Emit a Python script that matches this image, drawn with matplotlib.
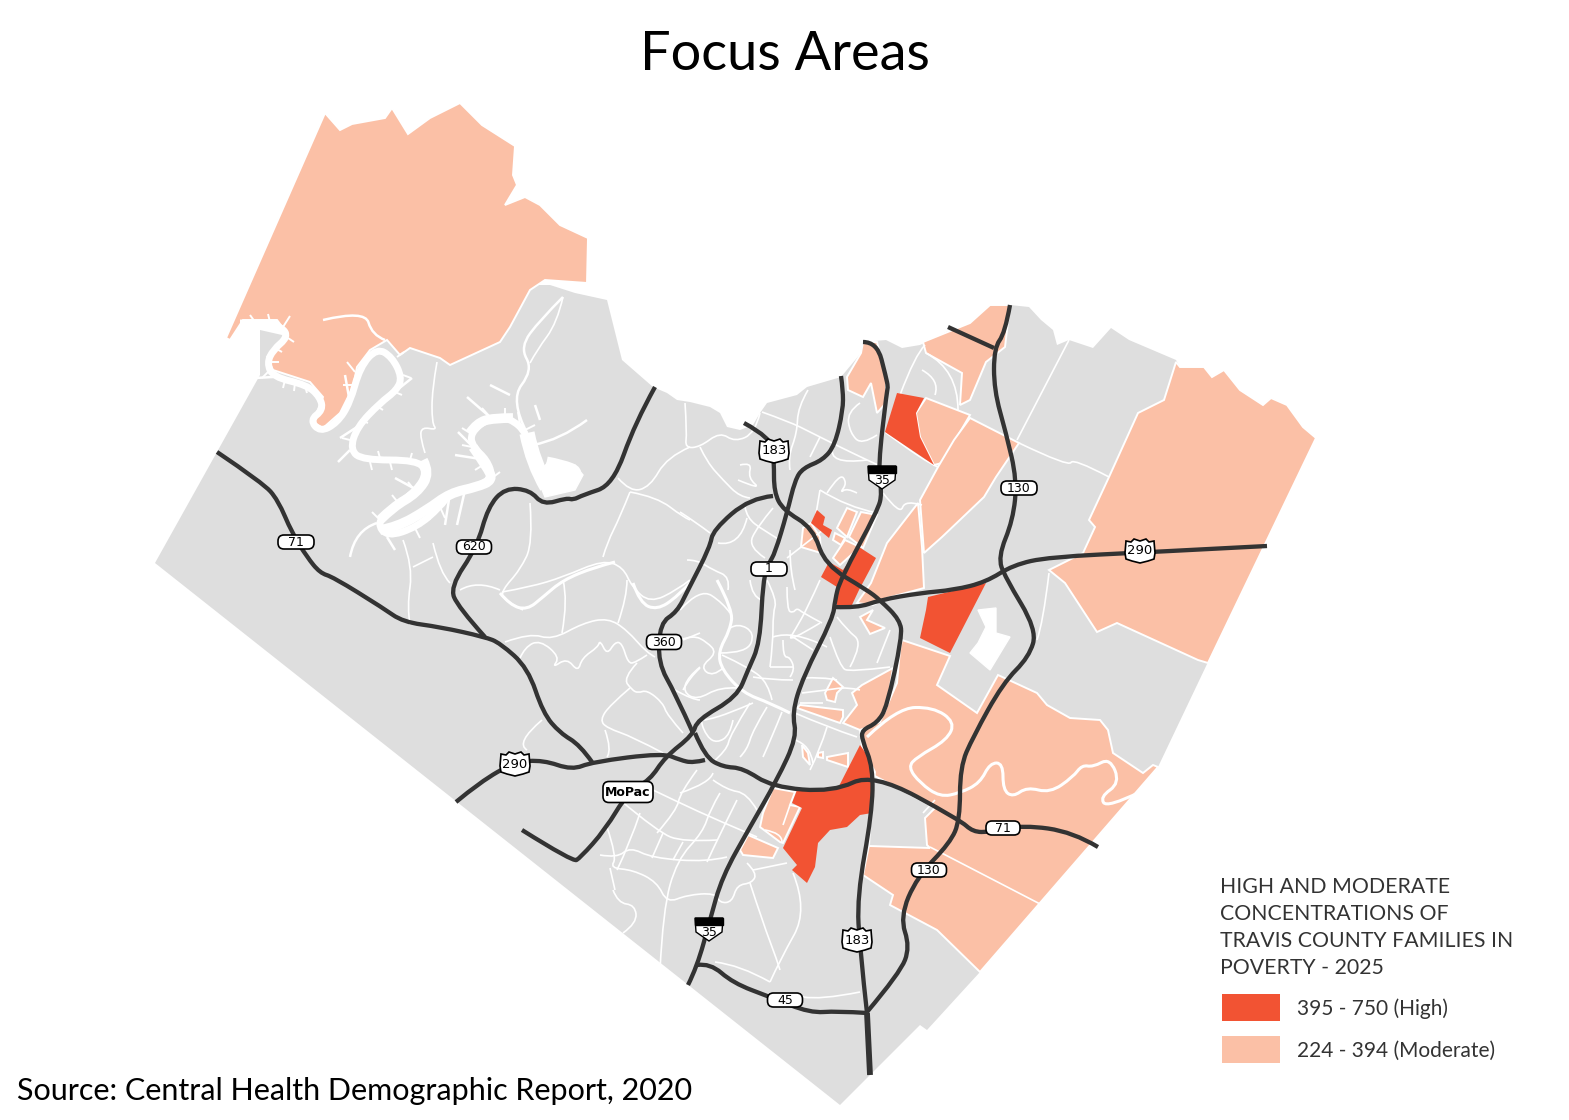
import matplotlib
matplotlib.use("Agg")
import matplotlib.pyplot as plt
from matplotlib.path import Path
from matplotlib.patches import Polygon, Rectangle, FancyBboxPatch, PathPatch

# all map shapes are in picture pixels
county = [(155,563),(260,375),(260,330),(282,335),(400,300),(530,285),(550,285),(575,293),(607,300),(622,360),
          (653,387),(667,393),(677,400),(690,402),(710,407),(720,413),(727,427),(740,430),(753,425),(760,413),
          (767,403),(797,395),(807,387),(841,377),(861,353),(863,342),(886,340),(902,348),(920,345),(946,332),
          (970,323),(990,305),(1010,305),(1029,307),(1041,320),(1053,330),(1057,345),(1069,340),(1093,348),
          (1111,328),(1129,340),(1176,360),(1180,367),(1208,662),(1158,767),(980,972),(927,1030),(920,1025),(840,1105)]

moderate_areas = [
    # north west
    [(226,338),(325,113),(340,130),(352,124),(385,118),(392,108),(408,134),(430,118),(442,112),(460,103),
     (482,125),(515,146),(513,175),(517,185),(505,205),(525,197),(540,205),(560,225),(588,238),(587,283),
     (545,280),(530,290),(510,327),(500,342),(450,365),(440,358),(410,348),(400,355),(387,340),(370,350),
     (357,367),(353,387),(340,413),(323,428),(313,422),(323,397),(310,382),(273,370),(267,357),(287,333),
     (277,320),(243,320),(230,340)],
    # far east
    [(1176,362),(1180,367),(1204,367),(1212,377),(1224,370),(1240,390),(1263,405),(1271,398),(1287,405),
     (1303,427),(1316,438),(1208,663),(1198,660),(1117,623),(1097,632),(1065,583),(1049,570),(1083,553),
     (1095,527),(1089,520),(1109,477),(1138,413),(1164,400)],
    # south east
    [(902,640),(950,656),(937,685),(977,713),(998,675),(1037,693),(1047,705),(1070,718),(1100,720),(1108,730),
     (1113,753),(1143,773),(1153,765),(1158,767),(980,972),(937,930),(890,905),(893,895),(863,875),(869,845),
     (875,772),(862,747),(860,730),(880,722),(897,683),(900,650)],
    # north side
    [(926,398),(970,415),(942,463),(934,465),(920,437),(916,413)],
    [(970,418),(1019,443),(996,477),(984,497),(942,537),(924,553),(920,500),(938,467),(954,440)],
    [(923,342),(970,323),(990,305),(1010,305),(1005,347),(986,362),(970,400),(960,405),(962,373),(926,353)],
    [(847,377),(861,353),(863,342),(877,342),(886,377),(886,403),(877,413),(871,383),(863,397),(848,390)],
    [(918,503),(887,543),(871,583),(857,603),(873,605),(887,598),(924,588),(922,547)],
    # around the centre
    [(803,528),(811,523),(820,537),(821,553),(801,547)],
    [(847,508),(857,512),(847,537),(837,528)],
    [(861,512),(877,515),(863,548),(849,537)],
    [(835,533),(845,538),(841,545),(833,540)],
    [(845,540),(860,547),(840,565),(833,558)],
    [(860,617),(873,610),(867,620),(885,628),(870,634)],
    [(827,700),(825,693),(833,678),(843,687),(837,693),(835,702)],
    [(862,685),(893,668),(888,700),(885,712),(873,725),(860,730),(843,723),(857,705),(852,693)],
    [(800,705),(843,710),(843,717),(840,723),(797,708)],
    [(802,745),(808,753),(810,765),(803,757)],
    [(818,753),(823,752),(823,758),(818,757)],
    [(827,757),(848,753),(848,767),(827,760)],
    [(773,788),(795,792),(790,805),(800,807),(783,843),(780,842),(760,827),(763,813)],
    [(748,835),(778,848),(773,858),(743,855),(740,850)],
]

# grey pocket between 183 and 71
grey_pocket = [(873,775),(935,808),(925,818),(927,845),(930,848),(869,846)]

high_areas = [
    [(897,393),(924,398),(916,413),(920,437),(934,465),(885,432)],
    [(817,510),(825,517),(823,525),(832,530),(829,538),(811,523)],
    [(859,547),(876,558),(859,590),(851,607),(837,605),(837,587),(821,577),(829,562),(843,570)],
    [(928,597),(986,583),(950,653),(920,638),(926,610)],
    [(860,745),(872,762),(872,813),(860,815),(847,827),(830,830),(818,843),(815,867),(807,883),(792,870),
     (797,865),(783,848),(802,808),(792,803),(797,790),(837,790)],
]

lake_travis = [(240,323),(263,323),(282,327),(288,337),(273,350),(267,363),(273,377),(307,385),(320,397),(323,410),
               (310,420),(320,432),(337,423),(350,403),(360,367),(377,348),(392,357),(402,377),(397,390),(380,403),
               (357,427),(350,450),(363,460),(417,460),(427,472),(417,490),(390,510),(377,523),(387,537),(417,527),
               (440,507),(450,493),(477,487),(493,477),(487,460),(473,447),(470,433),(490,417),(510,418),(527,433),
               (533,463),(547,483),(573,480),(580,470),(563,463),(547,460)]
lake_wide = [
    [(470,433),(477,423),(493,418),(513,418)],
    [(473,447),(487,467),(493,480),(477,487),(450,493),(427,510),(397,527),(380,530)],
    [(423,460),(430,473),(417,493),(393,507),(380,520)],
]
lake_widest = [(527,433),(533,463),(547,487)]
lake_bay = [(547,463),(575,465),(583,475),(575,490),(545,497),(538,480)]
lake_walter = [(978,610),(996,608),(996,633),(1010,637),(990,670),(970,653),(978,643),(986,627)]
lake_arms = [
    [(527,433),(510,400),(533,370),(520,347),(540,320),(563,297)],
    [(533,445),(560,440),(587,420)],
    [(490,417),(467,397)],
    [(377,523),(355,530),(350,557)],
    [(357,427),(340,438)],
    [(350,450),(338,462)],
    [(387,537),(395,550)],
    [(417,490),(395,478)],
    [(487,460),(455,455)],
    [(473,447),(458,432)],
    [(450,493),(445,525)],
    [(465,490),(457,525)],
    [(323,320),(365,310),(372,335),(385,340)],
    [(350,403),(345,375)],
    [(273,377),(255,378)],
    [(397,390),(412,378)],
    [(510,395),(490,385)],
    [(540,420),(535,405)],
]
lake_teeth = [
    [(285,380),(283,388)],[(295,383),(294,391)],[(305,386),(307,393)],[(268,372),(262,378)],[(283,327),(290,316)],
    [(270,322),(268,314)],[(255,322),(250,315)],[(288,338),(294,342)],[(275,348),(282,352)],[(272,362),(279,362)],
    [(352,385),(343,385)],[(355,372),(347,362)],[(397,357),(404,352)],[(403,375),(411,378)],[(395,392),(402,395)],
    [(375,405),(383,410)],[(360,420),(368,423)],[(350,440),(342,438)],[(370,462),(372,470)],[(390,462),(392,470)],
    [(410,460),(412,453)],[(380,458),(378,451)],[(470,433),(462,428)],[(472,447),(462,445)],[(483,465),(475,470)],
    [(492,478),(500,472)],[(440,507),(445,518)],[(425,510),(430,520)],[(415,528),(420,538)],[(395,525),(390,535)],
    [(380,520),(372,512)],[(400,505),(392,495)],[(416,492),(408,482)],[(490,417),(482,408)],[(505,418),(505,408)],
    [(525,430),(535,425)],[(520,425),(518,412)],[(540,470),(550,462)],
]

white_lines = [
    # west
    [(437,362),(432,390),(432,423),(437,430),(422,427),(420,437),(425,453)],
    [(530,503),(533,543),(520,570),(502,590),(503,600),(523,610)],
    [(502,592),(530,587),(563,577),(603,560),(623,567),(632,587),(650,603),(677,590),(690,580)],
    [(618,478),(630,492),(650,487),(667,457),(690,447)],
    [(630,492),(620,517),(607,543),(603,557)],
    [(630,492),(657,497),(683,517),(690,520)],
    [(403,540),(413,567),(407,607),(410,625)],
    [(433,543),(440,573),(450,583)],
    [(460,590),(477,580),(500,590)],
    [(413,567),(433,557)],
    [(563,297),(557,323),(537,350),(530,363)],
    # below 620 and 71
    [(505,642),(530,633),(552,640),(583,623),(608,618),(627,630),(647,653),(655,657)],
    [(520,658),(525,647),(540,640),(560,657),(552,668),(567,658),(578,672),(582,658),(598,647),(600,640),
     (607,655),(615,642),(622,643),(628,663),(635,663),(647,655)],
    [(637,663),(623,678),(632,690),(638,693),(647,690),(663,703),(667,715),(683,733)],
    [(630,688),(610,705),(600,720),(607,728),(633,737),(663,753)],
    [(605,730),(612,750),(607,757)],
    [(542,720),(515,743),(527,750)],
    [(563,580),(568,600),(562,633)],
    [(627,580),(627,597),(618,623)],
    [(683,640),(700,633)],
    [(683,690),(690,677),(700,668)],
    [(675,690),(693,700),(700,700)],
    # north
    [(685,403),(687,433),(685,448),(700,447),(720,432),(735,442),(755,433),(760,413)],
    [(762,412),(790,422),(810,432),(820,437),(840,447),(867,460),(878,465)],
    [(808,390),(798,407),(797,433),(788,457),(790,470)],
    [(700,447),(707,462),(723,480),(740,497),(750,498)],
    [(740,465),(752,462),(748,478),(762,490),(738,480)],
    [(820,437),(810,457)],
    [(860,403),(847,412),(850,433),(862,445),(877,435)],
    [(833,447),(827,465),(867,460)],
    [(820,490),(815,520)],
    [(820,490),(847,507),(877,513)],
    [(827,493),(840,473),(847,483),(840,493),(847,488),(857,493)],
    [(680,512),(697,523),(710,533)],
    [(745,507),(747,518),(763,530),(780,540)],
    [(718,543),(740,547),(747,518)],
    [(773,508),(757,527),(748,547),(765,558)],
    [(687,560),(697,560),(713,570),(730,577),(728,590)],
    [(790,550),(790,570),(795,590)],
    [(787,558),(823,530)],
    [(885,432),(925,462),(938,467)],
    [(883,493),(900,515),(905,500),(922,505)],
    [(900,395),(915,355),(925,345)],
    [(926,353),(958,370),(958,410)],
    [(922,370),(940,380),(935,395)],
    [(1019,443),(1069,467),(1073,458),(1109,477)],
    [(1069,340),(1017,440)],
    [(1049,573),(1043,623),(1037,640)],
    # middle
    [(680,610),(700,588),(723,603),(730,613)],
    [(730,628),(738,623),(755,633),(747,653),(720,653)],
    [(680,640),(693,635),(707,642),(717,653),(700,667),(713,677),(723,668)],
    [(700,667),(688,677),(683,692),(697,700),(720,687),(737,688)],
    [(722,655),(750,668),(768,683),(772,700)],
    [(750,580),(752,597),(762,600)],
    [(767,580),(777,600),(773,613),(773,643),(770,667)],
    [(787,587),(787,610),(793,613),(797,608),(803,613),(822,623)],
    [(820,580),(808,607),(795,630),(787,643),(820,623)],
    [(773,637),(793,630),(827,647)],
    [(790,635),(813,650)],
    [(783,640),(783,657),(790,657),(795,670),(790,677)],
    [(770,667),(793,667)],
    [(753,677),(770,680),(793,680)],
    [(830,637),(840,667),(850,672),(890,667)],
    [(837,617),(847,630),(863,643),(850,667)],
    [(802,678),(823,677),(837,680)],
    [(802,693),(827,690),(847,687),(860,690)],
    [(800,703),(823,703)],
    [(890,630),(877,663)],
    [(753,703),(730,713),(707,720),(700,720),(707,737),(717,743),(730,735),(733,720)],
    [(767,707),(753,730),(747,750),(740,757)],
    [(782,712),(772,737),(763,757)],
    [(750,703),(730,735),(727,750),(712,763)],
    [(795,713),(827,727),(857,737)],
    [(827,727),(820,750),(810,770)],
    [(795,740),(810,745),(813,763)],
    # south
    [(697,770),(680,793),(677,810),(657,833)],
    [(653,790),(680,803),(717,820),(757,837)],
    [(620,800),(658,832),(683,842),(717,840)],
    [(640,813),(630,843),(617,870)],
    [(600,855),(617,858),(630,847),(652,858),(707,862),(727,857)],
    [(720,793),(710,810),(703,832),(677,860),(663,910),(660,970)],
    [(737,800),(717,840),(707,862)],
    [(652,858),(663,833)],
    [(607,827),(617,857),(610,868),(633,870),(657,882),(667,903),(687,895),(715,893),(720,903),(732,902),
     (737,885),(752,883),(757,873),(747,863)],
    [(613,890),(618,903),(635,905),(637,923),(623,933)],
    [(610,868),(615,890)],
    [(750,883),(763,923),(777,960),(780,970)],
    [(793,873),(808,910),(780,960),(770,982)],
    [(753,870),(787,863)],
    [(680,793),(710,783),(713,773)],
    [(713,780),(727,790),(747,793),(757,810)],
    [(683,842),(673,860)],
    [(715,962),(740,965),(770,982)],
    [(803,997),(820,1000),(860,992)],
    [(923,813),(935,800)],
    [(765,830),(782,833),(782,842)],
    [(790,805),(783,825)],
    [(930,847),(1042,905)],
]

thick_white_lines = [
    # river through the south east, and the creeks
    [(867,737),(897,708),(933,707),(955,722),(947,740),(917,757),(908,767),(920,783),(940,797),(960,793),
     (980,783),(990,763),(1003,763),(1003,790),(1013,797),(1027,787),(1050,793),(1073,777),(1082,765),
     (1093,767),(1110,758),(1120,783),(1100,797),(1107,808),(1140,792)],
    [(717,580),(733,610),(730,630),(718,652),(722,670),(743,693),(770,703),(790,713)],
    [(500,593),(510,605),(527,610),(543,597),(563,580),(595,567),(615,562)],
    [(633,583),(640,603),(657,610),(677,597),(693,580)],
]

# centrelines of the highways
road_71_w = [(217,452),(263,483),(278,500),(292,533),(307,557),(320,573),(333,577),(383,608),(403,622),(440,627),
             (485,637),(500,643),(528,668),(543,713),(560,733),(580,745),(592,762)]
road_290_w = [(456,802),(480,782),(515,762),(543,760),(572,770),(592,762),(663,753),(680,760),(693,763),(705,760)]
road_71_e = [(695,733),(705,757),(723,767),(743,768),(772,787),(833,792),(873,773),(960,820),(973,832),(990,832),
             (1023,825),(1073,832),(1098,847)]
road_mopac = [(522,830),(573,862),(580,858),(605,830),(628,792),(650,780),(665,757),(693,735),(697,720),(737,697),
              (748,670),(760,643),(763,580),(769,563),(775,553),(787,513),(795,480),(803,468),(823,460),(835,445),
              (843,410),(843,390),(841,376)]
road_360 = [(773,496),(750,498),(713,530),(710,547),(688,590),(677,612),(660,623),(658,663),(675,693),(693,733)]
road_183 = [(744,423),(772,438),(774,462),(774,492),(783,510),(813,528),(825,565),(867,590),(880,600),(900,620),
            (902,637),(887,707),(877,723),(862,730),(862,740),(873,767),(872,813),(857,897),(860,950),(867,1013)]
road_183_s = [(867,1013),(870,1075)]
road_35 = [(863,342),(877,342),(886,377),(888,387),(887,390),(878,467),(882,493),(878,510),(840,580),(835,600),
           (833,618),(803,677),(792,713),(797,737),(777,780),(750,827),(722,877),(710,920),(697,967),(688,985)]
road_45 = [(697,965),(710,963),(733,983),(770,997),(810,1013),(837,1011),(867,1013)]
road_130 = [(1010,305),(1005,333),(994,348),(994,390),(1006,433),(1017,480),(1013,520),(998,557),(1005,577),(1037,630),
            (1029,657),(1003,683),(973,737),(960,767),(960,820),(950,843),(917,877),(900,917),(910,947),(900,973),(867,1012)]
road_130_spur = [(948,327),(994,348)]
road_290_e = [(835,607),(857,608),(880,600),(920,593),(954,590),(986,582),(1013,565),(1049,557),(1152,552),(1267,546)]
road_620 = [(655,387),(635,423),(613,485),(583,495),(573,500),(567,498),(543,505),(530,490),(505,488),(488,507),
            (477,547),(450,587),(458,607),(485,637)]
roads = [road_71_w, road_290_w, road_71_e, road_mopac, road_360, road_183, road_35, road_45, road_130,
         road_130_spur, road_290_e, road_620]

oval_labels = ["71", "620", "1", "360", "MoPac", "130", "71", "130", "45"]
oval_x = [296, 474, 769, 664, 628, 1019, 1003, 929, 785]
oval_y = [542, 547, 569, 642, 792, 488, 828, 870, 1000]
oval_w = [36, 35, 36, 35, 50, 36, 34, 35, 35]
oval_h = [14, 14, 14, 15, 21, 14, 14, 14, 14]
us_labels = ["183", "290", "290", "183"]
us_x = [774, 1140, 515, 857]
us_y = [451, 551, 764, 940]
interstate_labels = ["35", "35"]
interstate_x = [882, 709]
interstate_y = [477, 929]

legend_title = ["HIGH AND MODERATE", "CONCENTRATIONS OF", "TRAVIS COUNTY FAMILIES IN", "POVERTY - 2025"]
legend_labels = ["395 - 750 (High)", "224 - 394 (Moderate)"]

GREY = "#DEDEDE"
PEACH = "#FBC0A6"
RED = "#F25333"
ROAD = "#333333"


def curve(points, color, lw, z):
    # rounds the corners of a traced line
    verts = [points[0]]
    codes = [Path.MOVETO]
    for i in range(1, len(points) - 1):
        mid = ((points[i][0] + points[i + 1][0]) / 2, (points[i][1] + points[i + 1][1]) / 2)
        if i == len(points) - 2:
            mid = points[-1]
        verts += [points[i], mid]
        codes += [Path.CURVE3, Path.CURVE3]
    if len(points) == 2:
        verts.append(points[1])
        codes.append(Path.LINETO)
    ax.add_patch(PathPatch(Path(verts, codes), fc="none", ec=color, lw=lw, zorder=z, capstyle="butt", joinstyle="round"))


fig = plt.figure(figsize=(15.69, 11.2), dpi=100)
ax = fig.add_axes([0, 0, 1, 1])
ax.set_xlim(0, 1569)
ax.set_ylim(1120, 0)
ax.axis("off")

ax.add_patch(Polygon(county, fc=GREY, ec="none", zorder=1))
for area in moderate_areas:
    ax.add_patch(Polygon(area, fc=PEACH, ec="white", lw=1.4, zorder=2))
ax.add_patch(Polygon(grey_pocket, fc=GREY, ec="white", lw=1.4, zorder=2))
for area in high_areas:
    ax.add_patch(Polygon(area, fc=RED, ec="none", zorder=3))

for line in white_lines:
    curve(line, "white", 1.2, 2.5)
for line in thick_white_lines:
    curve(line, "white", 2.2, 2.5)

# lakes
curve(lake_travis, "white", 5, 2.6)
for part in lake_wide:
    curve(part, "white", 7, 2.6)
curve(lake_widest, "white", 11, 2.6)
ax.add_patch(Polygon(lake_bay, fc="white", ec="white", lw=1, zorder=2.6))
ax.add_patch(Polygon(lake_walter, fc="white", ec="white", lw=1, zorder=2.6))
for arm in lake_arms:
    curve(arm, "white", 1.8, 2.6)
for tooth in lake_teeth:
    curve(tooth, "white", 1.4, 2.6)

for road in roads:
    curve(road, ROAD, 3.1, 4)
curve(road_183_s, ROAD, 4.2, 4)

# road signs
for label, x, y, w, h in zip(oval_labels, oval_x, oval_y, oval_w, oval_h):
    ax.add_patch(FancyBboxPatch((x - w / 2 + 6, y - h / 2 + 6), w - 12, h - 12,
                                boxstyle="round,pad=6,rounding_size=6", fc="white", ec="black", lw=1.2, zorder=5))
    ax.text(x, y, label, ha="center", va="center", fontsize=9, color="black", zorder=6,
            fontweight="bold" if label == "MoPac" else "normal")

us_shape = [(-14,-10),(-9,-9),(-6,-12),(0,-10),(6,-12),(9,-9),(14,-10),(15,2),(14,8),(8,10),(0,12),(-8,10),(-14,8),(-15,2)]
for label, x, y in zip(us_labels, us_x, us_y):
    ax.add_patch(Polygon([(x + dx, y + dy) for dx, dy in us_shape], fc="white", ec="black", lw=1.2, zorder=5))
    ax.text(x, y, label, ha="center", va="center", fontsize=9.5, color="black", zorder=6)

for label, x, y in zip(interstate_labels, interstate_x, interstate_y):
    ax.add_patch(Polygon([(x-14, y-11), (x+14, y-11), (x+13, y+3), (x, y+12), (x-13, y+3)], fc="white", ec="black", lw=1, zorder=5))
    ax.add_patch(Rectangle((x-14, y-11), 28, 7, fc="black", ec="black", zorder=5.5))
    ax.text(x, y+3, label, ha="center", va="center", fontsize=9, color="black", zorder=6)

ax.text(785, 55, "Focus Areas", ha="center", va="center", fontsize=39, family="Lato", color="black")
ax.text(17, 1091, "Source: Central Health Demographic Report, 2020", ha="left", va="center", fontsize=22,
        family="Lato", color="black")

for line, y in zip(legend_title, [887, 914, 941, 968]):
    ax.text(1220, y, line, ha="left", va="center", fontsize=15.3, family="Lato", color="#333333")
ax.add_patch(Rectangle((1222, 994), 58, 27, fc=RED, ec="none"))
ax.add_patch(Rectangle((1222, 1036), 58, 27, fc=PEACH, ec="none"))
for label, y in zip(legend_labels, [1009, 1051]):
    ax.text(1297, y, label, ha="left", va="center", fontsize=15, family="Lato", color="#333333")

fig.savefig("out.png", dpi=100, facecolor="white")
